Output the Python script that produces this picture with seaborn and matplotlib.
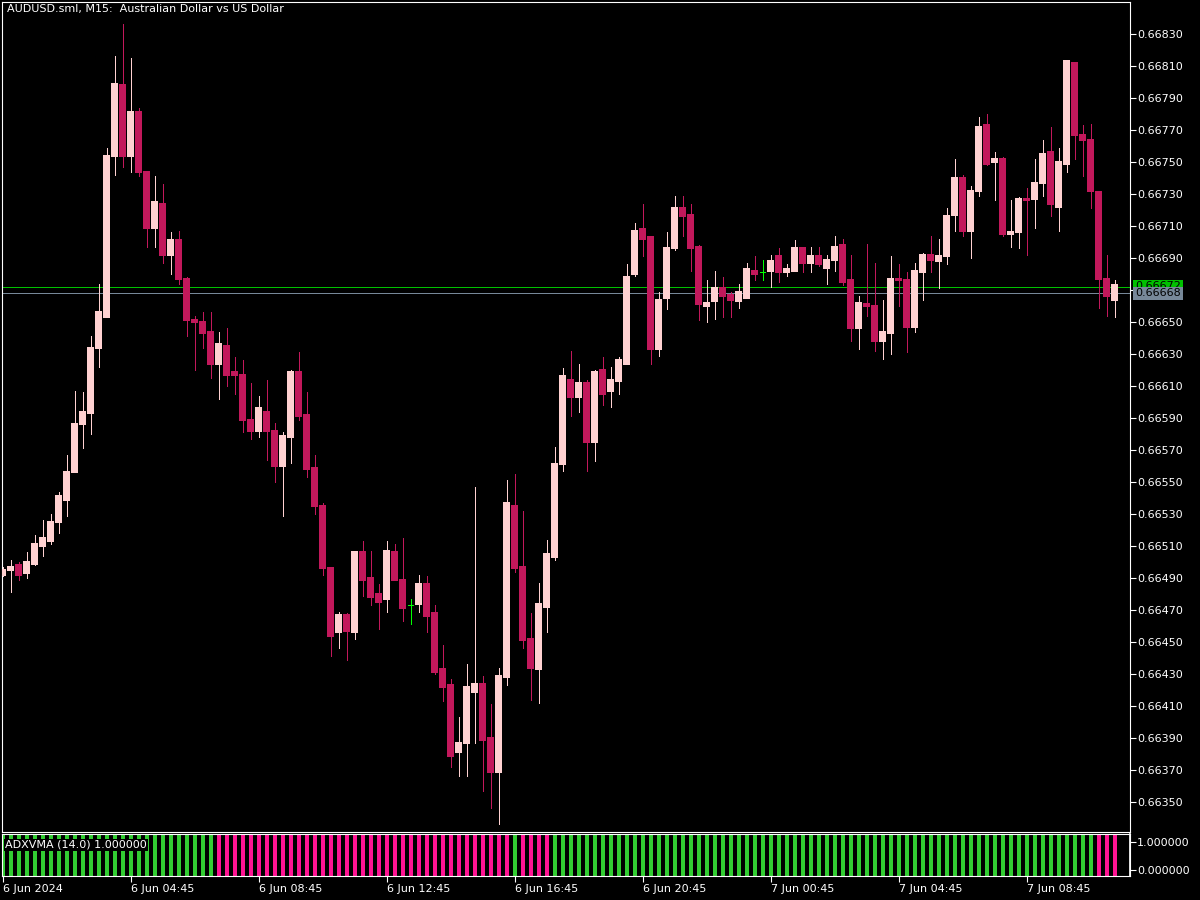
import numpy as np
import pandas as pd
import seaborn as sns
import matplotlib.pyplot as plt

# AUDUSD M15 candles, 6 Jun 2024 00:45 onwards, prices in points (1e-5)
opens = [66492, 66495, 66498, 66493, 66499, 66510, 66513, 66525, 66539, 66556,
         66586, 66593, 66634, 66653, 66754, 66798, 66754, 66781, 66744, 66709,
         66724, 66692, 66701, 66677, 66651, 66650, 66644, 66624, 66635, 66619,
         66617, 66589, 66582, 66594, 66582, 66560, 66578, 66619, 66592, 66559,
         66535, 66496, 66456, 66467, 66456, 66506, 66490, 66480, 66477, 66506,
         66489, 66473, 66474, 66486, 66468, 66433, 66423, 66381, 66387, 66419,
         66424, 66390, 66369, 66428, 66535, 66497, 66452, 66433, 66472, 66503,
         66561, 66614, 66603, 66612, 66575, 66620, 66607, 66613, 66624, 66680,
         66708, 66703, 66633, 66665, 66696, 66721, 66717, 66697, 66660, 66663,
         66671, 66667, 66663, 66665, 66682, 66681, 66682, 66691, 66681, 66682,
         66696, 66687, 66691, 66684, 66689, 66698, 66676, 66646, 66661, 66660,
         66638, 66643, 66677, 66676, 66647, 66681, 66692, 66688, 66691, 66717,
         66740, 66707, 66732, 66773, 66750, 66752, 66705, 66706, 66727, 66727,
         66737, 66756, 66722, 66749, 66812, 66767, 66764, 66731, 66677, 66664]
highs = [66497, 66501, 66500, 66506, 66517, 66526, 66530, 66544, 66567, 66607,
         66606, 66641, 66674, 66759, 66816, 66836, 66815, 66784, 66744, 66741,
         66736, 66706, 66707, 66678, 66654, 66656, 66656, 66644, 66646, 66628,
         66626, 66612, 66604, 66614, 66587, 66581, 66620, 66631, 66606, 66567,
         66537, 66496, 66469, 66468, 66507, 66513, 66507, 66486, 66513, 66511,
         66515, 66477, 66492, 66491, 66473, 66448, 66427, 66403, 66436, 66547,
         66429, 66411, 66434, 66551, 66555, 66532, 66468, 66487, 66514, 66572,
         66621, 66632, 66624, 66614, 66620, 66628, 66622, 66628, 66686, 66712,
         66724, 66704, 66669, 66706, 66729, 66729, 66724, 66698, 66676, 66682,
         66678, 66669, 66674, 66687, 66691, 66689, 66692, 66696, 66686, 66701,
         66697, 66697, 66697, 66692, 66704, 66702, 66692, 66666, 66699, 66687,
         66664, 66691, 66686, 66681, 66687, 66693, 66704, 66702, 66721, 66752,
         66742, 66735, 66778, 66780, 66756, 66753, 66726, 66728, 66734, 66752,
         66764, 66772, 66759, 66814, 66812, 66773, 66774, 66732, 66692, 66676]
lows = [66491, 66481, 66489, 66490, 66498, 66504, 66511, 66518, 66529, 66556,
        66571, 66580, 66622, 66653, 66742, 66747, 66744, 66741, 66697, 66697,
        66687, 66680, 66674, 66641, 66620, 66634, 66615, 66602, 66610, 66605,
        66581, 66577, 66578, 66564, 66550, 66529, 66562, 66589, 66553, 66530,
        66492, 66441, 66446, 66439, 66452, 66479, 66473, 66458, 66469, 66489,
        66463, 66461, 66469, 66456, 66430, 66413, 66372, 66366, 66366, 66387,
        66357, 66346, 66336, 66423, 66494, 66446, 66414, 66412, 66456, 66501,
        66557, 66591, 66594, 66557, 66563, 66598, 66597, 66605, 66624, 66679,
        66691, 66624, 66629, 66658, 66695, 66704, 66682, 66651, 66650, 66652,
        66653, 66653, 66659, 66665, 66676, 66676, 66672, 66675, 66679, 66682,
        66681, 66681, 66685, 66674, 66682, 66673, 66638, 66633, 66654, 66632,
        66627, 66630, 66660, 66631, 66644, 66664, 66681, 66671, 66686, 66707,
        66704, 66690, 66729, 66748, 66726, 66704, 66697, 66696, 66692, 66709,
        66729, 66716, 66707, 66744, 66752, 66741, 66721, 66659, 66654, 66653]
closes = [66495, 66497, 66492, 66500, 66511, 66515, 66525, 66541, 66556, 66586,
          66594, 66634, 66656, 66754, 66799, 66754, 66781, 66744, 66709, 66725,
          66692, 66701, 66677, 66651, 66650, 66643, 66624, 66636, 66617, 66617,
          66589, 66582, 66596, 66582, 66560, 66579, 66619, 66591, 66558, 66535,
          66496, 66454, 66467, 66457, 66506, 66489, 66478, 66475, 66507, 66489,
          66471, 66473, 66486, 66466, 66431, 66422, 66379, 66387, 66422, 66424,
          66389, 66369, 66429, 66537, 66496, 66451, 66434, 66474, 66505, 66561,
          66616, 66603, 66612, 66575, 66619, 66605, 66614, 66626, 66678, 66707,
          66702, 66633, 66664, 66696, 66721, 66716, 66696, 66661, 66662, 66671,
          66666, 66664, 66669, 66683, 66680, 66681, 66688, 66681, 66683, 66696,
          66687, 66691, 66686, 66689, 66697, 66675, 66646, 66662, 66660, 66638,
          66644, 66677, 66676, 66647, 66682, 66692, 66689, 66691, 66716, 66740,
          66707, 66732, 66772, 66749, 66752, 66705, 66706, 66727, 66726, 66737,
          66755, 66724, 66750, 66813, 66767, 66764, 66732, 66677, 66666, 66673]

# ADXVMA histogram: u = rising (green), d = falling (pink)
adx_trend = ("uuuuuuuuuuuuuuuuuuuuuuuuuuu"
             "ddddddddddddddddddddddddddddddddddddd"
             "u"
             "dddd"
             "uuuuuuuuuuuuuuuuuuuuuuuuuuuuuuuuuuuuuuuuuuuuuuuuuuuuuuuuuuuuuuuuuuuu"
             "ddd")
adx_value = 1.0

ask, bid = 66672, 66668
time_labels = ["6 Jun 2024", "6 Jun 04:45", "6 Jun 08:45", "6 Jun 12:45",
               "6 Jun 16:45", "6 Jun 20:45", "7 Jun 00:45", "7 Jun 04:45",
               "7 Jun 08:45"]

BULL, BEAR, DOJI = "#FFD1D1", "#C2185B", "#00FF00"
UP_C, DN_C = "#32CD32", "#FF1493"

sns.set_theme(style="dark", rc={"axes.facecolor": "black", "figure.facecolor": "black",
                                "axes.edgecolor": "white", "axes.grid": False})
plt.rcParams["font.family"] = ["DejaVu Sans"]

o = np.array(opens) / 1e5
h = np.array(highs) / 1e5
l = np.array(lows) / 1e5
c = np.array(closes) / 1e5
x = np.arange(len(o))
cols = np.where(c > o, BULL, np.where(c < o, BEAR, DOJI))
flat = c == o

fig = plt.figure(figsize=(12, 9), dpi=100)
ax = fig.add_axes([0.0017, 0.0756, 0.94, 0.9222])
ax2 = fig.add_axes([0.0017, 0.0267, 0.94, 0.0467], sharex=ax)

# candles (1px wicks, crisp like the terminal)
ax.vlines(x, l, h, colors=cols, linewidth=0.6, antialiased=False, zorder=2)
ax.bar(x[~flat], np.abs(c - o)[~flat], bottom=np.minimum(o, c)[~flat], width=0.58,
       color=cols[~flat], edgecolor=cols[~flat], linewidth=0.3, antialiased=False, zorder=3)
ax.hlines(o[flat], x[flat] - 0.32, x[flat] + 0.32, colors=DOJI, linewidth=0.6,
          antialiased=False, zorder=3)

# bid / ask lines
ax.axhline(ask / 1e5, color="#00C000", linewidth=0.6, antialiased=False, zorder=1)
ax.axhline(bid / 1e5, color="#778899", linewidth=0.6, antialiased=False, zorder=1)

ax.set_xlim(-0.06, 140.94)
ax.set_ylim(0.6633125, 0.6685)
ax.yaxis.tick_right()
ax.set_yticks(np.arange(66350, 66831, 20) / 1e5)
ax.yaxis.set_major_formatter(plt.FormatStrFormatter("%.5f"))
ax.tick_params(axis="y", colors="white", labelsize=8, length=4, width=0.8, pad=1, direction="out", right=True)
ax.tick_params(axis="x", bottom=False, labelbottom=False)
for s in ax.spines.values():
    s.set_color("white")
    s.set_linewidth(0.8)

ax.text(0.004, 0.997, "AUDUSD.sml, M15:  Australian Dollar vs US Dollar", transform=ax.transAxes,
        color="white", fontsize=8, va="top", ha="left")

# current price labels (ask partly hidden under bid, as in the terminal)
ytr = ax.get_yaxis_transform()
ax.text(1.0045, ask / 1e5 + 0.0000035, "0.66672", transform=ytr, color="black", fontsize=8,
        va="center", ha="left", bbox=dict(boxstyle="square,pad=0.15", fc="#00C000", ec="none"),
        clip_on=False, zorder=5)
ax.text(1.0045, bid / 1e5, "0.66668", transform=ytr, color="black", fontsize=8, va="center", ha="left",
        bbox=dict(boxstyle="square,pad=0.15", fc="#778899", ec="none"), clip_on=False, zorder=6)

# indicator window
ind = pd.DataFrame({"bar": x, "value": adx_value, "trend": list(adx_trend)})
sns.barplot(data=ind, x="bar", y="value", hue="trend", palette={"u": UP_C, "d": DN_C},
            native_scale=True, dodge=False, width=0.5, saturation=1, legend=False,
            linewidth=0, edgecolor="none", ax=ax2)
for p in ax2.patches:
    p.set_antialiased(False)
ax2.set_facecolor("black")
ax2.set_ylim(0, 1)
ax2.set_xlim(-0.06, 140.94)
ax2.set_xlabel("")
ax2.set_ylabel("")
ax2.set_yticks([])
ax2.set_xticks(np.arange(len(time_labels)) * 16)
ax2.set_xticklabels(time_labels, ha="left")
ax2.tick_params(axis="x", colors="white", labelsize=8, length=4, width=0.8, pad=2, bottom=True, direction="out")
for s in ax2.spines.values():
    s.set_color("white")
    s.set_linewidth(0.8)

sec = ax2.secondary_yaxis("right", functions=(lambda f: (f - 0.143) / 0.667, lambda v: 0.143 + 0.667 * v))
sec.set_yticks([0, 1])
sec.yaxis.set_major_formatter(plt.FormatStrFormatter("%.6f"))
sec.tick_params(colors="white", labelsize=8, length=4, width=0.8, pad=1)
sec.spines["right"].set_color("white")

ax2.text(0.003, 0.74, "ADXVMA (14.0) 1.000000", transform=ax2.transAxes, color="white", fontsize=8,
         va="center", ha="left", bbox=dict(boxstyle="square,pad=0.1", fc="black", ec="none"), zorder=5)

fig.savefig("out.png", dpi=100, facecolor="black")
